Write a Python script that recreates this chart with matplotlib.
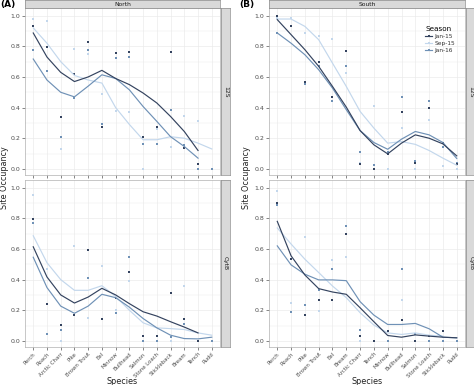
import matplotlib
matplotlib.use('Agg')
import matplotlib.pyplot as plt
import numpy as np
from matplotlib.lines import Line2D

nan = np.nan

# ---------------- data ----------------
north_species = ['Perch', 'Roach', 'Arctic Charr', 'Pike', 'Brown Trout', 'Eel', 'Minnow',
                 'Bullhead', 'Salmon', 'Stone Loach', 'Stickleback', 'Bream', 'Tench', 'Rudd']
south_species = ['Perch', 'Roach', 'Pike', 'Brown Trout', 'Eel', 'Bream', 'Arctic Charr',
                 'Tench', 'Minnow', 'Bullhead', 'Salmon', 'Stone Loach', 'Stickleback', 'Rudd']
seasons = ['Jan-15', 'Sep-15', 'Jan-16']

# North, 12S
n12_jan15_pts = [0.93, 0.795, 0.34, 0.62, 0.828, 0.275, 0.758, 0.76, 0.207, 0.276, 0.76, 0.135, 0.035, nan]
n12_sep15_pts = [0.98, 0.965, 0.13, 0.78, 0.747, 0.49, 0.38, 0.368, 0.0, 0.26, 0.146, 0.346, 0.31, 0.0]
n12_jan16_pts = [0.773, 0.64, 0.21, 0.46, 0.773, 0.29, 0.725, 0.73, 0.16, 0.16, 0.385, 0.157, 0.0, 0.0]
n12_jan15_fit = [0.887, 0.73, 0.63, 0.57, 0.60, 0.643, 0.59, 0.55, 0.495, 0.43, 0.342, 0.244, 0.12, nan]
n12_sep15_fit = [0.92, 0.82, 0.70, 0.61, 0.58, 0.56, 0.40, 0.29, 0.19, 0.19, 0.21, 0.20, 0.168, 0.13]
n12_jan16_fit = [0.717, 0.58, 0.50, 0.47, 0.54, 0.614, 0.59, 0.516, 0.407, 0.31, 0.21, 0.146, 0.07, nan]

# North, CytB
ncy_jan15_pts = [0.795, 0.243, 0.105, 0.17, 0.59, 0.14, 0.28, 0.45, 0.035, 0.035, 0.31, 0.14, 0.0, nan]
ncy_sep15_pts = [0.95, 0.47, 0.0, 0.62, 0.15, 0.49, 0.2, 0.39, 0.0, 0.0, 0.0, 0.36, 0.0, 0.0]
ncy_jan16_pts = [0.77, 0.046, 0.07, 0.17, 0.41, 0.14, 0.18, 0.55, 0.0, 0.0, 0.024, 0.11, 0.0, 0.0]
ncy_jan15_fit = [0.614, 0.417, 0.30, 0.247, 0.286, 0.343, 0.30, 0.243, 0.19, 0.162, 0.125, 0.09, 0.052, nan]
ncy_sep15_fit = [0.686, 0.51, 0.40, 0.33, 0.33, 0.36, 0.29, 0.2, 0.118, 0.085, 0.08, 0.074, 0.052, 0.037]
ncy_jan16_fit = [0.546, 0.348, 0.227, 0.18, 0.227, 0.304, 0.282, 0.22, 0.146, 0.085, 0.037, 0.015, 0.013, 0.024]

# South, 12S
s12_jan15_pts = [1.0, 0.935, 0.566, 0.70, 0.466, 0.767, 0.03, 0.0, 0.10, 0.368, 0.04, 0.40, 0.17, 0.03]
s12_sep15_pts = [0.985, 0.985, 0.887, 0.865, 0.85, 0.625, 0.037, 0.41, 0.0, 0.266, 0.0, 0.32, 0.02, 0.0]
s12_jan16_pts = [0.887, 0.93, 0.556, 0.673, 0.44, 0.673, 0.113, 0.026, 0.109, 0.468, 0.05, 0.444, 0.14, 0.037]
s12_jan15_fit = [0.974, 0.876, 0.778, 0.669, 0.538, 0.403, 0.25, 0.157, 0.098, 0.168, 0.222, 0.2, 0.163, 0.085]
s12_sep15_fit = [0.978, 0.978, 0.93, 0.843, 0.69, 0.538, 0.375, 0.266, 0.168, 0.178, 0.16, 0.12, 0.07, 0.024]
s12_jan16_fit = [0.887, 0.82, 0.745, 0.647, 0.527, 0.386, 0.25, 0.172, 0.128, 0.194, 0.244, 0.222, 0.172, 0.068]

# South, CytB
scy_jan15_pts = [0.9, 0.535, 0.168, 0.27, 0.27, 0.70, 0.035, 0.0, 0.063, 0.133, 0.0, 0.035, 0.063, nan]
scy_sep15_pts = [0.98, 0.247, 0.68, 0.195, 0.53, 0.55, 0.0, 0.0, 0.0, 0.265, 0.0, 0.0, 0.0, nan]
scy_jan16_pts = [0.887, 0.188, 0.232, 0.332, 0.472, 0.747, 0.07, 0.0, 0.0, 0.466, 0.048, 0.0, 0.0, 0.0]
scy_jan15_fit = [0.78, 0.555, 0.43, 0.341, 0.319, 0.304, 0.216, 0.125, 0.035, 0.024, 0.039, 0.031, 0.024, 0.02]
scy_sep15_fit = [0.737, 0.632, 0.533, 0.446, 0.358, 0.282, 0.184, 0.103, 0.052, 0.042, 0.052, 0.037, 0.031, nan]
scy_jan16_fit = [0.62, 0.496, 0.435, 0.398, 0.398, 0.393, 0.256, 0.168, 0.107, 0.107, 0.114, 0.079, 0.024, 0.02]

y_ticks = [0.0, 0.2, 0.4, 0.6, 0.8, 1.0]
y_tick_labels = ['0.0', '0.2', '0.4', '0.6', '0.8', '1.0']

# ---------------- style ----------------
colors = {'Jan-15': '#34435f', 'Sep-15': '#c3d7ec', 'Jan-16': '#6f91b6'}
draw_order = ['Sep-15', 'Jan-16', 'Jan-15']
W, H = 474, 385
fig = plt.figure(figsize=(W / 100, H / 100), dpi=100)
fig.patch.set_facecolor('white')
TXT = '#4d4d4d'


def ax_px(x0, y0, x1, y1):
    return fig.add_axes([x0 / W, 1 - y1 / H, (x1 - x0) / W, (y1 - y0) / H])


def strip(x0, y0, x1, y1, label, rot=0):
    a = ax_px(x0, y0, x1, y1)
    a.set_facecolor('#d9d9d9')
    a.set_xticks([]); a.set_yticks([])
    for s in a.spines.values():
        s.set_color('#8c8c8c'); s.set_linewidth(0.5)
    a.text(0.5, 0.5, label, transform=a.transAxes, ha='center', va='center',
           fontsize=4.3, color='#1a1a1a', rotation=rot)


def facet(box, species, pts, fits, bottom):
    ax = ax_px(*box)
    x = np.arange(1, len(species) + 1)
    for s in draw_order:
        ax.plot(x, pts[s], linestyle='none', marker='s', markersize=2.1,
                markeredgewidth=0, color=colors[s], zorder=3)
    for s in draw_order:
        ax.plot(x, fits[s], color=colors[s], lw=0.85, zorder=4)
    ax.set_xlim(0.4, len(species) + 0.6)
    ax.set_ylim(-0.04, 1.05)
    ax.set_yticks(y_ticks)
    ax.set_yticklabels(y_tick_labels)
    ax.set_yticks(np.arange(0.1, 1.0, 0.2), minor=True)
    ax.set_xticks(x)
    if bottom:
        ax.set_xticklabels(species, rotation=45, ha='right', va='top',
                           rotation_mode='anchor', fontsize=3.9, color=TXT)
    else:
        ax.set_xticklabels([])
    ax.tick_params(axis='both', which='major', length=2, width=0.5, color='#555555',
                   labelsize=4.5, labelcolor=TXT, pad=1.5)
    if bottom:
        ax.tick_params(axis='x', labelsize=3.9, pad=1.2)
    ax.tick_params(axis='y', which='minor', length=0)
    ax.grid(True, which='major', color='#ebebeb', lw=0.5, zorder=0)
    ax.grid(True, which='minor', axis='y', color='#ebebeb', lw=0.35, zorder=0)
    ax.set_axisbelow(True)
    for sp in ax.spines.values():
        sp.set_color('#b0b0b0'); sp.set_linewidth(0.5)
    return ax


# Panel A (North)
facet((25, 8, 220, 175), north_species,
      {'Jan-15': n12_jan15_pts, 'Sep-15': n12_sep15_pts, 'Jan-16': n12_jan16_pts},
      {'Jan-15': n12_jan15_fit, 'Sep-15': n12_sep15_fit, 'Jan-16': n12_jan16_fit}, False)
facet((25, 180, 220, 347), north_species,
      {'Jan-15': ncy_jan15_pts, 'Sep-15': ncy_sep15_pts, 'Jan-16': ncy_jan16_pts},
      {'Jan-15': ncy_jan15_fit, 'Sep-15': ncy_sep15_fit, 'Jan-16': ncy_jan16_fit}, True)
strip(25, 0, 220, 8, 'North')
strip(221, 8, 230, 175, '12S', rot=-90)
strip(221, 180, 230, 347, 'CytB', rot=-90)

# Panel B (South)
facet((269, 8, 465, 175), south_species,
      {'Jan-15': s12_jan15_pts, 'Sep-15': s12_sep15_pts, 'Jan-16': s12_jan16_pts},
      {'Jan-15': s12_jan15_fit, 'Sep-15': s12_sep15_fit, 'Jan-16': s12_jan16_fit}, False)
facet((269, 180, 465, 347), south_species,
      {'Jan-15': scy_jan15_pts, 'Sep-15': scy_sep15_pts, 'Jan-16': scy_jan16_pts},
      {'Jan-15': scy_jan15_fit, 'Sep-15': scy_sep15_fit, 'Jan-16': scy_jan16_fit}, True)
strip(269, 0, 465, 8, 'South')
strip(466, 8, 476, 175, '12S', rot=-90)
strip(466, 180, 476, 347, 'CytB', rot=-90)

# Legend
handles = [Line2D([0], [0], color=colors[s], lw=0.85, marker='s', markersize=2.1,
                  markeredgewidth=0) for s in seasons]
leg = fig.legend(handles, seasons, title='Season', loc='upper left',
                 bbox_to_anchor=(421 / W, 1 - 22 / H), frameon=False,
                 fontsize=4.2, title_fontsize=5.2, handlelength=1.2,
                 handletextpad=0.4, labelspacing=0.3, borderpad=0.2)
leg._legend_box.align = 'left'
for t in leg.get_texts():
    t.set_color('#333333')

# Labels
fig.text(5 / W, 1 - 178 / H, 'Site Occupancy', rotation=90, ha='center', va='center',
         fontsize=5.8, color='#222222')
fig.text(247 / W, 1 - 178 / H, 'Site Occupancy', rotation=90, ha='center', va='center',
         fontsize=5.8, color='#222222')
fig.text(122 / W, 1 - 381 / H, 'Species', ha='center', va='center', fontsize=5.8, color='#222222')
fig.text(367 / W, 1 - 381 / H, 'Species', ha='center', va='center', fontsize=5.8, color='#222222')
fig.text(0 / W, 1 - 4 / H, '(A)', ha='left', va='center', fontsize=6.5, fontweight='bold')
fig.text(239 / W, 1 - 4 / H, '(B)', ha='left', va='center', fontsize=6.5, fontweight='bold')

fig.savefig('out.png', dpi=100, facecolor='white')
